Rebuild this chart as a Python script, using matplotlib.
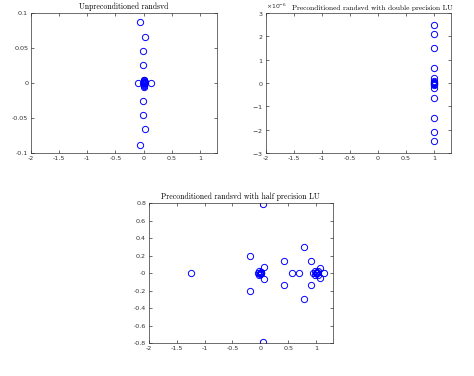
import matplotlib.pyplot as plt
import numpy as np
from matplotlib.ticker import FuncFormatter, ScalarFormatter

plt.rcParams['axes.unicode_minus'] = False

unprec_re = [-0.07, 0.03, -0.01, -0.01, -0.1, 0.13, 0.0, 0.01, 0.02, 0.01, 0.0, 0.02,
             0.005, 0.015, -0.005, 0.01, 0.005, 0.015,
             -0.01, -0.01, 0.03, -0.07]
unprec_im = [0.088, 0.066, 0.046, 0.026, 0.0, 0.0, 0.0, 0.005, 0.002, -0.005, -0.002, 0.0,
             0.004, 0.003, 0.0, 0.001, -0.004, -0.003,
             -0.026, -0.046, -0.066, -0.088]

dbl_re = [1.0] * 17
dbl_im = [2.5e-6, 2.1e-6, 1.5e-6, 0.65e-6, 0.2e-6, 0.1e-6, 0.05e-6, 0.02e-6, 0.0,
          -0.02e-6, -0.05e-6, -0.1e-6, -0.2e-6, -0.65e-6, -1.5e-6, -2.1e-6, -2.5e-6]

half_re = [-1.25, -0.18, -0.18, 0.05, 0.05, 0.07, 0.07, -0.05, -0.02, -0.02, 0.0, 0.01,
           0.0, 0.02, 0.005, 0.015, 0.43, 0.43, 0.56, 0.69, 0.78, 0.78, 0.91, 0.91, 0.95,
           0.98, 0.98, 1.0, 1.01, 1.03, 1.03, 1.08, 1.08, 1.15, 1.0, 1.02, 1.01]
half_im = [0.0, 0.2, -0.2, 0.79, -0.79, 0.065, -0.065, 0.0, 0.02, -0.02, 0.0, 0.01,
           -0.01, 0.0, 0.005, -0.005, 0.14, -0.14, 0.0, 0.0, 0.3, -0.3, 0.14, -0.14, 0.0,
           0.02, -0.02, 0.0, 0.005, 0.02, -0.02, 0.055, -0.055, 0.0, -0.005, 0.0, 0.01]

xticks = [-2, -1.5, -1, -0.5, 0, 0.5, 1]

fig = plt.figure(figsize=(4.74, 3.76), dpi=100)

def setup(ax, title, yticks, ylim, title_x=0.5, title_size=5.6):
    ax.set_xlim(-2, 1.3)
    ax.set_ylim(*ylim)
    ax.set_xticks(xticks)
    ax.set_yticks(yticks)
    ax.xaxis.set_major_formatter(FuncFormatter(lambda v, p: '%g' % v))
    ax.tick_params(direction='in', length=2, width=0.5, labelsize=4.6,
                   colors='#333333', top=True, right=True, pad=2)
    for s in ax.spines.values():
        s.set_color('#333333')
        s.set_linewidth(0.5)
    ax.text(title_x, 1.012, title, transform=ax.transAxes, ha='center', va='bottom',
            fontsize=title_size, fontname='cmr10')

ax1 = fig.add_axes([0.0654, 0.593, 0.392, 0.372])
ax1.plot(unprec_re, unprec_im, 'o', mfc='none', mec='b', ms=4.5, mew=0.7)
setup(ax1, 'Unpreconditioned randsvd', [-0.1, -0.05, 0, 0.05, 0.1], (-0.1, 0.1))
ax1.yaxis.set_major_formatter(FuncFormatter(lambda v, p: '%g' % v))

ax2 = fig.add_axes([0.561, 0.593, 0.390, 0.372])
ax2.plot(dbl_re, dbl_im, 'o', mfc='none', mec='b', ms=4.5, mew=0.7)
setup(ax2, 'Preconditioned randsvd with double precision LU',
      [-3e-6, -2e-6, -1e-6, 0, 1e-6, 2e-6, 3e-6], (-3e-6, 3e-6),
      title_x=0.578, title_size=5.3)
fmt = ScalarFormatter(useMathText=True)
fmt.set_powerlimits((0, 0))
ax2.yaxis.set_major_formatter(fmt)
ax2.yaxis.get_offset_text().set_fontsize(4.4)
ax2.yaxis.get_offset_text().set_color('#333333')

ax3 = fig.add_axes([0.314, 0.0878, 0.388, 0.372])
ax3.plot(half_re, half_im, 'o', mfc='none', mec='b', ms=4.5, mew=0.7)
setup(ax3, 'Preconditioned randsvd with half precision LU',
      np.round(np.arange(-0.8, 0.81, 0.2), 1), (-0.8, 0.8))
ax3.yaxis.set_major_formatter(FuncFormatter(lambda v, p: '%g' % v))

fig.savefig('out.png', dpi=100)
